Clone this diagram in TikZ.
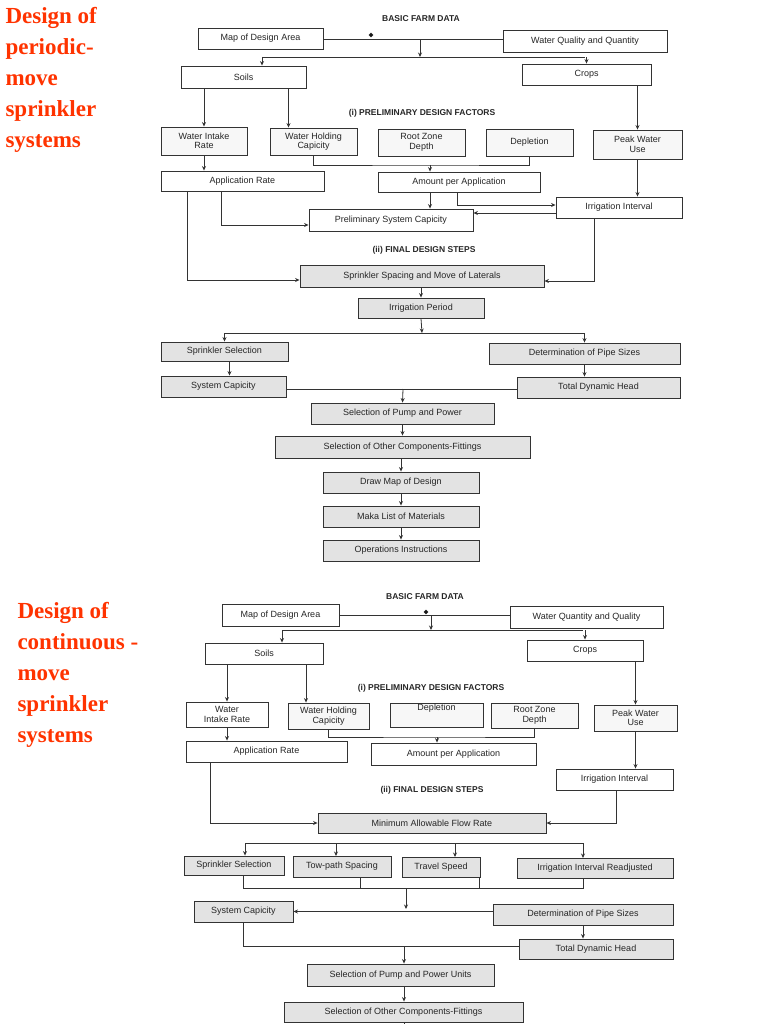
\documentclass[tikz,border=0pt]{standalone}
\usepackage{fontspec}
\setmainfont{Liberation Sans}
\newfontfamily\ttl{Liberation Serif}
\usetikzlibrary{arrows.meta}
\definecolor{ttlred}{HTML}{FF3300}
\definecolor{ln}{HTML}{333333}
\newcommand\bx[7][white]{\node[box,fill=#1,minimum width={(#5-#3)*1pt},minimum height={(#6-#4)*1pt}] (#2) at ({(#3+#5)/2},{(#4+#6)/2}) {#7};}
\begin{document}
\begin{tikzpicture}[x=1pt,y=-1pt,
  box/.style={draw=ln,line width=0.9pt,align=center,inner sep=1pt,font=\fontsize{9}{9.5}\selectfont,text=black!85},
  arr/.style={draw=ln,line width=0.8pt,-{Stealth[length=4.5pt,width=4pt]}},
  ln/.style={draw=ln,line width=0.8pt},
  hd/.style={font=\bfseries\fontsize{8.5}{9}\selectfont,text=black!85},
  tt/.style={anchor=north west,align=left,text=ttlred,font=\ttl\bfseries\fontsize{23}{31}\selectfont}]
\useasboundingbox (0,0) rectangle (768,1024);
\def\g{gray!22}
\def\p{gray!6}
% titles
\node[tt] (t1) at (2,4) {Design of\\periodic-\\move\\sprinkler\\systems};
\node[tt] (t2) at (14,599) {Design of\\continuous -\\move\\sprinkler\\systems};
% ===== top diagram =====
\node[hd] (h1) at (421,19) {BASIC FARM DATA};
\node[hd] (h2) at (422,113) {(i) PRELIMINARY DESIGN FACTORS};
\node[hd] (h3) at (424,250) {(ii) FINAL DESIGN STEPS};
\bx{map}{198}{28}{323}{49}{Map of Design Area}
\bx{wq}{503}{30}{667}{52}{Water Quality and Quantity}
\bx{soils}{181}{66}{306}{88}{Soils}
\bx{crops}{522}{64}{651}{85}{Crops}
\bx[\p]{wir}{161}{127}{247}{155}{Water Intake\\Rate}
\bx[\p]{whc}{270}{128}{357}{155}{Water Holding\\Capicity}
\bx[\p]{rzd}{378}{129}{465}{156}{Root Zone\\Depth}
\bx[\p]{dep}{486}{129}{573}{156}{Depletion}
\bx[\p]{pwu}{593}{130}{682}{159}{Peak Water\\Use}
\bx{ar}{161}{171}{324}{191}{Application Rate}
\bx{apa}{378}{172}{540}{192}{Amount per Application}
\bx{ii}{556}{197}{682}{218}{Irrigation Interval}
\bx{psc}{309}{209}{473}{231}{Preliminary System Capicity}
\bx[\g]{ssml}{300}{265}{544}{287}{Sprinkler Spacing and Move of Laterals}
\bx[\g]{ip}{358}{298}{484}{318}{Irrigation Period}
\bx[\g]{sprs}{161}{342}{288}{361}{Sprinkler Selection}
\bx[\g]{dps}{489}{343}{680}{364}{Determination of Pipe Sizes}
\bx[\g]{sysc}{161}{376}{286}{397}{System Capicity}
\bx[\g]{tdh}{517}{377}{680}{398}{Total Dynamic Head}
\bx[\g]{pump}{311}{403}{494}{424}{Selection of Pump and Power}
\bx[\g]{oth}{275}{436}{530}{458}{Selection of Other Components-Fittings}
\bx[\g]{drw}{323}{472}{479}{493}{Draw Map of Design}
\bx[\g]{mak}{323}{506}{479}{527}{Maka List of Materials}
\bx[\g]{ops}{323}{540}{479}{561}{Operations Instructions}
\coordinate (j1) at (420,39.5);
\coordinate (j2) at (420,57);
\coordinate (jb) at (430,165);
\coordinate (j3) at (422,333);
\coordinate (j4) at (403,389);
\draw[ln] (map.east |- j1) -- (wq.west |- j1);
\fill[ln] (371,35) circle (1.8);
\draw[arr] (j1) -- (j2);
\draw[ln] (262,57) -- (585,57);
\draw[arr] (262,57) -- ([xshift=18.5pt]soils.north);
\draw[arr] (crops.north |- j2) -- (crops.north);
\draw[arr] (soils.south -| wir.north) -- (wir.north);
\draw[arr] ([xshift=-25pt]soils.south -| whc.north) -- ([xshift=-25pt]whc.north);
\draw[arr] (crops.south -| pwu.north) -- (pwu.north);
\draw[arr] (wir.south) -- (wir.south |- ar.north);
\draw[ln] (whc.south) |- (jb) -| (dep.south);
\draw[arr] (jb) -- (jb |- apa.north);
\draw[arr] (pwu.south) -- (pwu.south |- ii.north);
\draw[arr] (jb |- apa.south) -- (jb |- psc.north);
\draw[arr] ([xshift=-2pt]apa.south) |- ([yshift=2.5pt]ii.west);
\draw[arr] ([yshift=-5.5pt]ii.west) -- ([yshift=-5.5pt]ii.west -| psc.east);
\draw[arr] ([xshift=-21.5pt]ar.south) |- ([yshift=-5pt]psc.west);
\draw[arr] ([xshift=-55.5pt]ar.south) |- ([yshift=-4pt]ssml.west);
\draw[arr] ([xshift=-25pt]ii.south) |- ([yshift=-5pt]ssml.east);
\draw[arr] (ssml.south -| ip.north) -- (ip.north);
\draw[arr] (ip.south) -- (j3);
\draw[ln] (sprs.north |- j3) -- (dps.north |- j3);
\draw[arr] (sprs.north |- j3) -- (sprs.north);
\draw[arr] (dps.north |- j3) -- (dps.north);
\draw[arr] ([xshift=5pt]sprs.south) -- ([xshift=5pt]sprs.south |- sysc.north);
\draw[arr] (dps.south) -- (dps.south |- tdh.north);
\draw[ln] (sysc.east |- j4) -- (tdh.west |- j4);
\draw[arr] (j4) -- (pump.north);
\draw[arr] (pump.south) -- (pump.south |- oth.north);
\draw[arr] (oth.south -| drw.north) -- (drw.north);
\draw[arr] (drw.south) -- (mak.north);
\draw[arr] (mak.south) -- (ops.north);
% ===== bottom diagram =====
\node[hd] (k1) at (425,597) {BASIC FARM DATA};
\node[hd] (k2) at (431,688) {(i) PRELIMINARY DESIGN FACTORS};
\node[hd] (k3) at (432,790) {(ii) FINAL DESIGN STEPS};
\bx{map2}{222}{604}{339}{626}{Map of Design Area}
\bx{wq2}{510}{606}{663}{628}{Water Quantity and Quality}
\bx{soils2}{205}{643}{323}{664}{Soils}
\bx{crops2}{527}{640}{643}{661}{Crops}
\bx{wir2}{186}{702}{268}{727}{Water\\Intake Rate}
\bx[\p]{whc2}{288}{703}{369}{729}{Water Holding\\Capicity}
\bx[\p]{dep2}{390}{703}{483}{727}{Depletion\\[6pt]}
\bx[\p]{rzd2}{491}{703}{578}{728}{Root Zone\\Depth}
\bx[\p]{pwu2}{594}{705}{677}{731}{Peak Water\\Use}
\bx{ar2}{186}{741}{347}{762}{Application Rate}
\bx{apa2}{371}{743}{536}{765}{Amount per Application}
\bx{ii2}{556}{769}{673}{790}{Irrigation Interval}
\bx[\g]{mafr}{318}{813}{546}{833}{Minimum Allowable Flow Rate}
\bx[\g]{sprs2}{184}{856}{284}{875}{Sprinkler Selection}
\bx[\g]{tow}{293}{856}{391}{877}{Tow-path Spacing}
\bx[\g]{ts}{402}{857}{480}{877}{Travel Speed}
\bx[\g]{iir}{517}{858}{673}{878}{Irrigation Interval Readjusted}
\bx[\g]{sysc2}{194}{901}{293}{922}{System Capicity}
\bx[\g]{dps2}{493}{904}{673}{925}{Determination of Pipe Sizes}
\bx[\g]{tdh2}{519}{939}{673}{959}{Total Dynamic Head}
\bx[\g]{pump2}{307}{964}{494}{986}{Selection of Pump and Power Units}
\bx[\g]{oth2}{284}{1002}{523}{1022}{Selection of Other Components-Fittings}
\coordinate (k1a) at (431,615);
\coordinate (k1b) at (431,630);
\coordinate (kb) at (437,737);
\coordinate (k5) at (245,843);
\coordinate (k6) at (406,888);
\coordinate (k7) at (404,946);
\draw[ln] (map2.east |- k1a) -- (wq2.west |- k1a);
\fill[ln] (426,612) circle (1.8);
\draw[arr] (k1a) -- (k1b);
\draw[ln] (282,630) -- (583,630);
\draw[arr] (282,630) -- ([xshift=18pt]soils2.north);
\draw[arr] (crops2.north |- k1b) -- (crops2.north);
\draw[arr] (soils2.south -| wir2.north) -- (wir2.north);
\draw[arr] ([xshift=-22.5pt]soils2.south -| whc2.north) -- ([xshift=-22.5pt]whc2.north);
\draw[arr] (crops2.south -| pwu2.north) -- (pwu2.north);
\draw[arr] (wir2.south) -- (wir2.south |- ar2.north);
\draw[ln] (whc2.south) |- (kb) -| (rzd2.south);
\draw[arr] (kb) -- (kb |- apa2.north);
\draw[arr] (pwu2.south) -- (pwu2.south |- ii2.north);
\draw[arr] ([xshift=-56.5pt]ar2.south) |- (mafr.west);
\draw[arr] ([xshift=1.5pt]ii2.south) |- (mafr.east);
\draw[ln] (k5) -- (583,843);
\draw[arr] (k5) -- (k5 |- sprs2.north);
\draw[arr] (336,843) -- (336,856);
\draw[arr] (455,843) -- (455,857);
\draw[arr] (583,843) -- (583,858);
\draw[ln] (243,875) |- (k6);
\draw[ln] (360,877) -- (360,888);
\draw[ln] (479,877) -- (479,888);
\draw[ln] (583,878) |- (k6);
\draw[arr] (k6) -- (406,909);
\draw[arr,{Stealth[length=4.5pt,width=4pt]}-] (sysc2.east) -- (sysc2.east -| dps2.west);
\draw[arr] (dps2.south) -- (dps2.south |- tdh2.north);
\draw[ln] (243,922) |- (tdh2.west |- k7);
\draw[arr] (k7) -- (k7 |- pump2.north);
\draw[arr] (pump2.south -| k7) -- (oth2.north -| k7);
\draw[ln] (oth2.south -| k7) -- (404,1024);
\end{tikzpicture}
\end{document}
